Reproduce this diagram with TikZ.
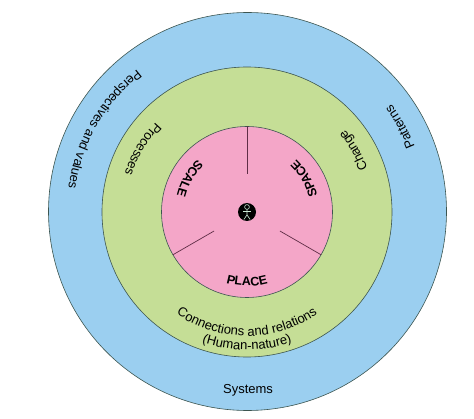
\documentclass[tikz,border=0pt]{standalone}
\usepackage{fontspec}
\setmainfont{Liberation Sans}
\usetikzlibrary{decorations.text}

\definecolor{skyring}{RGB}{155,207,240}
\definecolor{leafring}{RGB}{197,222,150}
\definecolor{rosering}{RGB}{244,166,200}
\definecolor{rimline}{RGB}{60,85,80}
\definecolor{spokeline}{RGB}{95,45,70}
\definecolor{figureline}{RGB}{205,235,215}

\newcommand{\ringfont}{\fontsize{13}{13}\selectfont}
\newcommand{\corefont}{\fontsize{12.5}{12.5}\selectfont\bfseries}

% radius, first angle, last angle, font, text
\newcommand{\arctext}[5]{
    \path[decorate, decoration={text along path, text align=center, text={|#4|#5}}]
        (hub.center) ++(#2:#1pt) arc[start angle=#2, end angle=#3, radius=#1pt];
}

\tikzset{
    ring/.style={circle, draw=rimline, line width=0.6pt, inner sep=0pt},
    spoke/.style={draw=spokeline, line width=0.7pt},
    stick/.style={draw=figureline, line width=0.6pt},
}

\begin{document}
\begin{tikzpicture}[x=1pt, y=1pt]
    \useasboundingbox (0,0) rectangle (474,418);

    \node (sysdisc) [ring, fill=skyring, minimum size=398pt] at (247.5,206.5) {};
    \node (procdisc) [ring, fill=leafring, minimum size=290pt] at (247,206) {};
    \node (coredisc) [ring, fill=rosering, minimum size=171pt] at (247,206) {};
    \node (hub) [circle, fill=black, minimum size=18pt, inner sep=0pt] at (247,206) {};

    \foreach \ang in {90,210,330} {
        \coordinate (inner\ang) at ([shift={(\ang:38)}]hub.center);
        \draw[spoke] (inner\ang) -- (coredisc.\ang);
    }

    % person in the middle
    \draw[stick] ([yshift=5pt]hub.center) circle[radius=2.4pt];
    \draw[stick] ([yshift=2.6pt]hub.center) -- ([yshift=-3pt]hub.center)
        -- ([shift={(-3.2,-7.5)}]hub.center);
    \draw[stick] ([yshift=-3pt]hub.center) -- ([shift={(3.2,-7.5)}]hub.center);
    \draw[stick] ([shift={(-4,0.5)}]hub.center) -- ([shift={(4,0.5)}]hub.center);

    \arctext{72}{115}{185}{\corefont}{SCALE}
    \arctext{72}{-5}{65}{\corefont}{SPACE}
    \arctext{74}{235}{305}{\corefont}{PLACE}

    \arctext{128}{120}{178}{\ringfont}{Processes}
    \arctext{128}{0}{60}{\ringfont}{Change}
    \arctext{124}{220}{320}{\ringfont}{Connections and relations}
    \arctext{138}{235}{305}{\ringfont}{(Human-nature)}

    \arctext{180}{110}{190}{\ringfont}{Perspectives and values}
    \arctext{180}{0}{58}{\ringfont}{Patterns}

    \node (systems) [font=\ringfont] at (248,28) {Systems};
\end{tikzpicture}
\end{document}
